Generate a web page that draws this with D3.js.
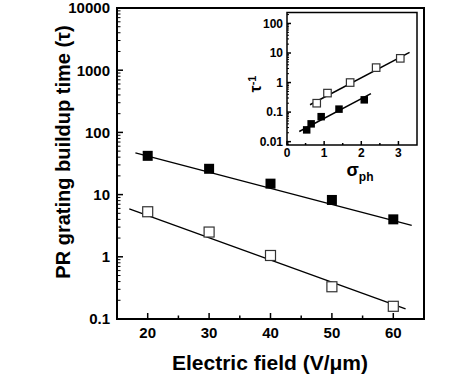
<!DOCTYPE html>
<html>
<head>
<meta charset="utf-8">
<script src="https://cdn.jsdelivr.net/npm/d3@7"></script>
<style>
  body { margin: 0; background: #fff; }
  svg text { font-family: "Liberation Sans", Arial, sans-serif; font-weight: bold; fill: #000; }
</style>
</head>
<body>
<div id="chart"></div>
<script>
// main plot: buildup time vs electric field
const fields = [20, 30, 40, 50, 60]
const tauFilled = [42, 26, 15, 8.2, 4.0]
const tauOpen = [5.3, 2.5, 1.05, 0.33, 0.16]
const fitFilled = [[18, 47], [63, 3.2]]
const fitOpen = [[17, 5.9], [62, 0.145]]
const xTicks = [20, 30, 40, 50, 60]
const yTicks = [0.1, 1, 10, 100, 1000, 10000]

// inset: inverse time vs sigma_ph
const sigmaOpen = [0.8, 1.09, 1.7, 2.4, 3.05]
const invOpen = [0.2, 0.44, 1.0, 3.2, 6.6]
const sigmaFilled = [0.53, 0.65, 0.92, 1.4, 2.08]
const invFilled = [0.025, 0.04, 0.07, 0.126, 0.26]
const insetFitOpen = [[0.62, 0.177], [3.3, 10.5]]
const insetFitFilled = [[0.33, 0.022], [2.26, 0.42]]
const insetXTicks = [0, 1, 2, 3]
const insetYTicks = [0.01, 0.1, 1, 10, 100]

const width = 474
const height = 375

const svg = d3.select("#chart")
    .append("svg")
    .attr("width", width)
    .attr("height", height)

const fmt = d => d3.format("~g")(d)

// minor log ticks between decades
function logMinor(lo, hi) {
    const out = []
    for (let e = Math.floor(Math.log10(lo)); e < Math.ceil(Math.log10(hi)); e++) {
        for (let m = 2; m <= 9; m++) {
            const v = m * Math.pow(10, e)
            if (v > lo && v < hi) out.push(v)
        }
    }
    return out
}

function drawPanel(g, x, y, opt) {
    const [x0, x1] = x.range()
    const [y0, y1] = y.range()

    // minor + major ticks, inward
    const yMinor = logMinor(y.domain()[0], y.domain()[1])
    g.selectAll(".ymin").data(yMinor).enter().append("line")
        .attr("x1", x0).attr("x2", x0 + opt.minor)
        .attr("y1", d => y(d)).attr("y2", d => y(d))
        .attr("stroke", "#000").attr("stroke-width", 1)
    g.selectAll(".ymaj").data(opt.yTicks).enter().append("line")
        .attr("x1", x0).attr("x2", x0 + opt.major)
        .attr("y1", d => y(d)).attr("y2", d => y(d))
        .attr("stroke", "#000").attr("stroke-width", 1.5)
    g.selectAll(".xmin").data(opt.xMinor).enter().append("line")
        .attr("x1", d => x(d)).attr("x2", d => x(d))
        .attr("y1", y0).attr("y2", y0 - opt.minor)
        .attr("stroke", "#000").attr("stroke-width", 1.5)
    g.selectAll(".xmaj").data(opt.xTicks).enter().append("line")
        .attr("x1", d => x(d)).attr("x2", d => x(d))
        .attr("y1", y0).attr("y2", y0 - opt.major)
        .attr("stroke", "#000").attr("stroke-width", 1.5)

    // tick labels
    g.selectAll(".ylab").data(opt.yTicks).enter().append("text")
        .attr("x", x0 - opt.labGap)
        .attr("y", d => y(d))
        .attr("dy", "0.36em")
        .attr("text-anchor", "end")
        .style("font-size", opt.tickFont + "px")
        .text(fmt)
    g.selectAll(".xlab").data(opt.xTicks).enter().append("text")
        .attr("x", d => x(d))
        .attr("y", y0 + opt.xLabGap)
        .attr("text-anchor", "middle")
        .style("font-size", opt.tickFont + "px")
        .text(fmt)

    // fit lines
    const line = d3.line().x(d => x(d[0])).y(d => y(d[1]))
    opt.fits.forEach(f => {
        g.append("path").attr("d", line(f))
            .attr("fill", "none").attr("stroke", "#000").attr("stroke-width", opt.lineW)
    })

    // markers
    const s = opt.marker
    opt.series.forEach(sr => {
        g.selectAll(null).data(sr.x.map((v, i) => [v, sr.y[i]])).enter().append("rect")
            .attr("x", d => x(d[0]) - s / 2)
            .attr("y", d => y(d[1]) - s / 2)
            .attr("width", s).attr("height", s)
            .attr("fill", sr.filled ? "#000" : "#fff")
            .attr("stroke", sr.filled ? "#000" : "#333")
            .attr("stroke-width", sr.filled ? 0 : 1.2)
    })

    // frame
    g.append("rect")
        .attr("x", x0).attr("y", y1)
        .attr("width", x1 - x0).attr("height", y0 - y1)
        .attr("fill", "none").attr("stroke", "#000").attr("stroke-width", opt.frameW)
}

// main chart
const xMain = d3.scaleLinear().domain([15, 65]).range([117, 424])
const yMain = d3.scaleLog().domain([0.1, 10000]).range([319, 8])

const gMain = svg.append("g")
drawPanel(gMain, xMain, yMain, {
    yTicks: yTicks, xTicks: xTicks, xMinor: [25, 35, 45, 55],
    major: 6, minor: 3.5, labGap: 7, xLabGap: 19, tickFont: 15,
    fits: [fitFilled, fitOpen], lineW: 1.3, marker: 10, frameW: 2,
    series: [
        { x: fields, y: tauFilled, filled: true },
        { x: fields, y: tauOpen, filled: false }
    ]
})

svg.append("text")
    .attr("transform", "translate(70,152) rotate(-90)")
    .attr("text-anchor", "middle")
    .style("font-size", "20px")
    .text("PR grating buildup time (τ)")

svg.append("text")
    .attr("x", 270).attr("y", 370)
    .attr("text-anchor", "middle")
    .style("font-size", "21px")
    .text("Electric field (V/μm)")

// inset
const xIn = d3.scaleLinear().domain([0, 3.5]).range([287, 417])
const yIn = d3.scaleLog().domain([0.0077, 235]).range([145, 12.5])

const gIn = svg.append("g")
gIn.append("rect").attr("x", 287).attr("y", 12.5).attr("width", 130).attr("height", 132.5).attr("fill", "#fff")
drawPanel(gIn, xIn, yIn, {
    yTicks: insetYTicks, xTicks: insetXTicks, xMinor: [0.5, 1.5, 2.5],
    major: 4, minor: 2, labGap: 4, xLabGap: 12, tickFont: 12,
    fits: [insetFitOpen, insetFitFilled], lineW: 1.5, marker: 7.5, frameW: 1.5,
    series: [
        { x: sigmaOpen, y: invOpen, filled: false },
        { x: sigmaFilled, y: invFilled, filled: true }
    ]
})

const tauLab = svg.append("text")
    .attr("transform", "translate(261,84) rotate(-90)")
    .attr("text-anchor", "middle")
    .style("font-size", "16px")
tauLab.append("tspan").text("τ")
tauLab.append("tspan").attr("dy", "-0.5em").style("font-size", "11px").text("-1")

const sigLab = svg.append("text")
    .attr("x", 360).attr("y", 176)
    .attr("text-anchor", "middle")
    .style("font-size", "18px")
sigLab.append("tspan").text("σ")
sigLab.append("tspan").attr("dy", "0.4em").style("font-size", "12px").text("ph")
</script>
</body>
</html>
